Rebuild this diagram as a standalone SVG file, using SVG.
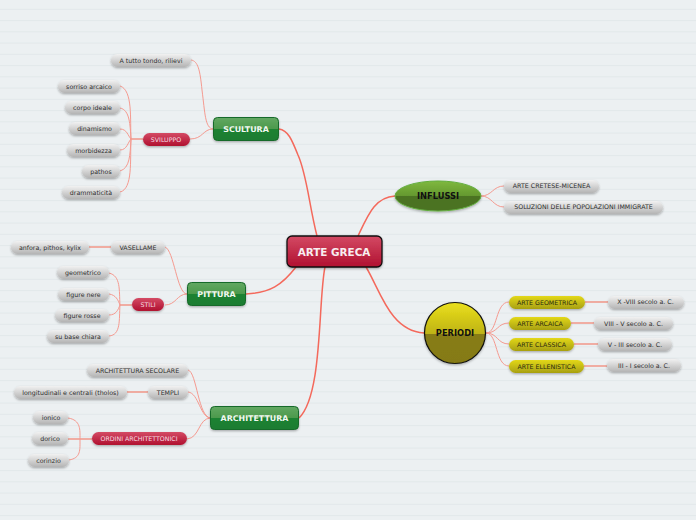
<svg xmlns="http://www.w3.org/2000/svg" width="696" height="520" viewBox="0 0 696 520">
<style>
text{font-family:"DejaVu Sans",Verdana,sans-serif;text-anchor:middle;dominant-baseline:central}
.g text{font-size:6.3px;fill:#2e2e2e}
.r text{font-size:6.3px;fill:#f6dde2}
.y text{font-size:6.3px;fill:#2a2a10}
.m text{font-size:7.9px;font-weight:bold;fill:#f2f8f2}
.c1{fill:none;stroke:#f4695c;stroke-width:1.5}
.c2{fill:none;stroke:#f59a90;stroke-width:1}
.c3{fill:none;stroke:#f4806f;stroke-width:1.2}
.bg{stroke:#e3e8ea;stroke-width:1}
</style>
<defs>
<linearGradient id="gg" x1="0" y1="0" x2="0" y2="1"><stop offset="0" stop-color="#f1f1f1"/><stop offset="1" stop-color="#b4b4b4"/></linearGradient>
<linearGradient id="gr" x1="0" y1="0" x2="0" y2="1"><stop offset="0" stop-color="#d44a64"/><stop offset="1" stop-color="#b01030"/></linearGradient>
<linearGradient id="gy" x1="0" y1="0" x2="0" y2="1"><stop offset="0" stop-color="#e3d81a"/><stop offset="1" stop-color="#a8a010"/></linearGradient>
<linearGradient id="gm" x1="0" y1="0" x2="0" y2="1"><stop offset="0" stop-color="#62a862"/><stop offset=".5" stop-color="#4c994c"/><stop offset=".5" stop-color="#1e8232"/><stop offset="1" stop-color="#1a7c30"/></linearGradient>
<linearGradient id="gi" x1="0" y1="0" x2="0" y2="1"><stop offset="0" stop-color="#7fb83f"/><stop offset=".5" stop-color="#64982f"/><stop offset=".5" stop-color="#4b7324"/><stop offset="1" stop-color="#4b7324"/></linearGradient>
<linearGradient id="gp" x1="0" y1="0" x2="0" y2="1"><stop offset="0" stop-color="#ebe01c"/><stop offset=".52" stop-color="#bdb214"/><stop offset=".52" stop-color="#877c12"/><stop offset="1" stop-color="#857a12"/></linearGradient>
<filter id="s" x="-20%" y="-30%" width="140%" height="170%"><feDropShadow dx="0" dy="1.2" stdDeviation="0.8" flood-color="#000" flood-opacity=".3"/></filter>
</defs>
<rect width="696" height="520" fill="#ecf0f2"/>
<g id="background">
<path class="bg" d="M0 9.3H696M0 20.55H696M0 31.8H696M0 43.05H696M0 54.3H696M0 65.55H696M0 76.8H696M0 88.05H696M0 99.3H696M0 110.55H696M0 121.8H696M0 133.05H696M0 144.3H696M0 155.55H696M0 166.8H696M0 178.05H696M0 189.3H696M0 200.55H696M0 211.8H696M0 223.05H696M0 234.3H696M0 245.55H696M0 256.8H696M0 268.05H696M0 279.3H696M0 290.55H696M0 301.8H696M0 313.05H696M0 324.3H696M0 335.55H696M0 346.8H696M0 358.05H696M0 369.3H696M0 380.55H696M0 391.8H696M0 403.05H696M0 414.3H696M0 425.55H696M0 436.8H696M0 448.05H696M0 459.3H696M0 470.55H696M0 481.8H696M0 493.05H696M0 504.3H696M0 515.55H696"/>
</g>
<g id="connectors">
<path class="c1" d="M317 236C309 205 307 175 298 155C292 140 288 130 279 129"/>
<path class="c1" d="M296 267C282 285 270 293 246 294"/>
<path class="c1" d="M325 267C318 300 323 395 299 418"/>
<path class="c1" d="M358 236C368 215 375 197 395 196"/>
<path class="c1" d="M366 267C380 290 390 331 424 333"/>
<path class="c2" d="M213 129C205 128 205 113 202 90C200 70 198 61 191 60"/>
<path class="c2" d="M213 129C203 129 203 139 190 139"/>
<path class="c3" d="M143 139H131"/>
<path class="c2" d="M120 86C133 90 130 120 131 139"/>
<path class="c2" d="M120 108C130 110 130 125 131 139"/>
<path class="c2" d="M120 129C127 129 128 136 131 139"/>
<path class="c2" d="M120 150C127 150 128 142 131 139"/>
<path class="c2" d="M120 171C130 168 130 155 131 139"/>
<path class="c2" d="M120 192C133 189 130 160 131 139"/>
<path class="c2" d="M187 294C177 294 174 250 165 247"/>
<path class="c2" d="M187 294C177 294 176 305 165 305"/>
<path class="c3" d="M132 305H120"/>
<path class="c2" d="M109 273C121 276 119 290 120 305"/>
<path class="c2" d="M109 294C116 295 118 300 120 305"/>
<path class="c2" d="M109 315C116 315 118 310 120 305"/>
<path class="c2" d="M109 336C121 335 119 320 120 305"/>
<path class="c3" d="M111 247H89"/>
<path class="c2" d="M211 418C198 418 197 372 188 370"/>
<path class="c2" d="M211 418C200 418 199 393 188 392"/>
<path class="c2" d="M211 418C198 418 200 438 187 439"/>
<path class="c3" d="M148 392H127"/>
<path class="c3" d="M92 439H68"/>
<path class="c2" d="M68 418C81 420 80 430 80 439C80 450 81 458 69 460"/>
<path class="c2" d="M481 196C492 196 493 186 504 186"/>
<path class="c2" d="M481 196C492 196 493 207 504 207"/>
<path class="c2" d="M486 333C498 333 495 302 509 302"/>
<path class="c2" d="M486 333C498 333 497 323 509 323"/>
<path class="c2" d="M486 333C498 333 497 344 509 344"/>
<path class="c2" d="M486 333C498 333 495 366 509 366"/>
<path class="c3" d="M585 302H608"/>
<path class="c3" d="M571 323H594"/>
<path class="c3" d="M574 344H598"/>
<path class="c3" d="M584 366H607"/>
</g>
<g id="n-arte-greca"><rect x="287" y="236" width="95" height="31" rx="5" fill="url(#gr)" stroke="#111" stroke-width="1.3" filter="url(#s)"/><text x="334" y="251.5" font-size="10.4" font-weight="bold" fill="#f8eef0">ARTE GRECA</text></g>
<g class="m">
<g id="n-scultura"><rect x="213.500" y="117.500" width="65" height="23" rx="4" fill="url(#gm)" stroke="#176a2a" filter="url(#s)"/><text x="246" y="129">SCULTURA</text></g>
<g id="n-pittura"><rect x="187.500" y="282.500" width="58" height="23" rx="4" fill="url(#gm)" stroke="#176a2a" filter="url(#s)"/><text x="216.500" y="294">PITTURA</text></g>
<g id="n-architettura"><rect x="210.500" y="406.500" width="88" height="23" rx="4" fill="url(#gm)" stroke="#176a2a" filter="url(#s)"/><text x="254.500" y="418">ARCHITETTURA</text></g>
</g>
<g id="n-influssi"><ellipse cx="438" cy="196" rx="43" ry="15" fill="url(#gi)" stroke="#62ad3c" filter="url(#s)"/><text x="438" y="196" font-size="8.300" font-weight="bold" fill="#111">INFLUSSI</text></g>
<g id="n-periodi"><circle cx="455" cy="333" r="30.500" fill="url(#gp)" stroke="#111" stroke-width="1.200" filter="url(#s)"/><text x="455" y="333" font-size="8.300" font-weight="bold" fill="#111">PERIODI</text></g>
<g class="r">
<g id="n-sviluppo"><rect x="143" y="133" width="47" height="13" rx="6.500" fill="url(#gr)" filter="url(#s)"/><text x="166" y="139.500">SVILUPPO</text></g>
<g id="n-stili"><rect x="132" y="298" width="32" height="13" rx="6.500" fill="url(#gr)" filter="url(#s)"/><text x="148" y="304.500">STILI</text></g>
<g id="n-ordini"><rect x="92" y="432" width="95" height="13" rx="6.500" fill="url(#gr)" filter="url(#s)"/><text x="139" y="438.500">ORDINI ARCHITETTONICI</text></g>
</g>
<g class="y">
<g id="n-geometrica"><rect x="509" y="296" width="76" height="13" rx="6.500" fill="url(#gy)" filter="url(#s)"/><text x="547" y="302">ARTE GEOMETRICA</text></g>
<g id="n-arcaica"><rect x="509" y="317" width="62" height="13" rx="6.500" fill="url(#gy)" filter="url(#s)"/><text x="540" y="323">ARTE ARCAICA</text></g>
<g id="n-classica"><rect x="509" y="338" width="65" height="13" rx="6.500" fill="url(#gy)" filter="url(#s)"/><text x="541.500" y="344">ARTE CLASSICA</text></g>
<g id="n-ellenistica"><rect x="509" y="360" width="75" height="13" rx="6.500" fill="url(#gy)" filter="url(#s)"/><text x="546.500" y="366">ARTE ELLENISTICA</text></g>
</g>
<g class="g">
<g id="n-tutto"><rect x="111" y="54" width="80" height="13" rx="6.500" fill="url(#gg)" filter="url(#s)"/><text x="151" y="60.500">A tutto tondo, rilievi</text></g>
<g id="n-sorriso"><rect x="58" y="80" width="62" height="13" rx="6.500" fill="url(#gg)" filter="url(#s)"/><text x="89" y="86.500">sorriso arcaico</text></g>
<g id="n-corpo"><rect x="65" y="101" width="55" height="13" rx="6.500" fill="url(#gg)" filter="url(#s)"/><text x="92.500" y="107.500">corpo ideale</text></g>
<g id="n-dinamismo"><rect x="69" y="122" width="51" height="13" rx="6.500" fill="url(#gg)" filter="url(#s)"/><text x="94.500" y="128.500">dinamismo</text></g>
<g id="n-morbidezza"><rect x="67" y="144" width="53" height="13" rx="6.500" fill="url(#gg)" filter="url(#s)"/><text x="93.500" y="150.500">morbidezza</text></g>
<g id="n-pathos"><rect x="82" y="165" width="38" height="13" rx="6.500" fill="url(#gg)" filter="url(#s)"/><text x="101" y="171.500">pathos</text></g>
<g id="n-drammaticita"><rect x="62" y="186" width="58" height="13" rx="6.500" fill="url(#gg)" filter="url(#s)"/><text x="91" y="192.500">drammaticità</text></g>
<g id="n-anfora"><rect x="11" y="241" width="78" height="13" rx="6.500" fill="url(#gg)" filter="url(#s)"/><text x="50" y="247">anfora, pithos, kylix</text></g>
<g id="n-vasellame"><rect x="111" y="241" width="54" height="13" rx="6.500" fill="url(#gg)" filter="url(#s)"/><text x="138" y="247.500">VASELLAME</text></g>
<g id="n-geometrico"><rect x="57" y="266" width="52" height="13" rx="6.500" fill="url(#gg)" filter="url(#s)"/><text x="83" y="272.500">geometrico</text></g>
<g id="n-nere"><rect x="58" y="288" width="51" height="13" rx="6.500" fill="url(#gg)" filter="url(#s)"/><text x="83.500" y="294">figure nere</text></g>
<g id="n-rosse"><rect x="55" y="309" width="54" height="13" rx="6.500" fill="url(#gg)" filter="url(#s)"/><text x="82" y="315.500">figure rosse</text></g>
<g id="n-chiara"><rect x="47" y="330" width="62" height="13" rx="6.500" fill="url(#gg)" filter="url(#s)"/><text x="78" y="336.500">su base chiara</text></g>
<g id="n-secolare"><rect x="87" y="364" width="101" height="13" rx="6.500" fill="url(#gg)" filter="url(#s)"/><text x="137.500" y="370.500">ARCHITETTURA SECOLARE</text></g>
<g id="n-longitudinali"><rect x="14" y="386" width="113" height="13" rx="6.500" fill="url(#gg)" filter="url(#s)"/><text x="70.500" y="392">longitudinali e centrali (tholos)</text></g>
<g id="n-templi"><rect x="148" y="386" width="40" height="13" rx="6.500" fill="url(#gg)" filter="url(#s)"/><text x="168" y="392.500">TEMPLI</text></g>
<g id="n-ionico"><rect x="33" y="411" width="35" height="13" rx="6.500" fill="url(#gg)" filter="url(#s)"/><text x="51" y="417.500">ionico</text></g>
<g id="n-dorico"><rect x="32" y="432" width="36" height="13" rx="6.500" fill="url(#gg)" filter="url(#s)"/><text x="50" y="438.500">dorico</text></g>
<g id="n-corinzio"><rect x="28" y="454" width="41" height="13" rx="6.500" fill="url(#gg)" filter="url(#s)"/><text x="48.500" y="460.500">corinzio</text></g>
<g id="n-cretese"><rect x="504" y="180" width="95" height="13" rx="6.500" fill="url(#gg)" filter="url(#s)"/><text x="551.500" y="185.500">ARTE CRETESE-MICENEA</text></g>
<g id="n-soluzioni"><rect x="504" y="201" width="159" height="13" rx="6.500" fill="url(#gg)" filter="url(#s)"/><text x="583.500" y="206.500">SOLUZIONI DELLE POPOLAZIONI IMMIGRATE</text></g>
<g id="n-x"><rect x="608" y="296" width="76" height="13" rx="6.500" fill="url(#gg)" filter="url(#s)"/><text x="645.500" y="301.500">X -VIII secolo a. C.</text></g>
<g id="n-viii"><rect x="594" y="317" width="79" height="13" rx="6.500" fill="url(#gg)" filter="url(#s)"/><text x="633.500" y="323">VIII - V secolo a. C.</text></g>
<g id="n-v"><rect x="598" y="338" width="74" height="13" rx="6.500" fill="url(#gg)" filter="url(#s)"/><text x="635" y="344">V - III secolo a. C.</text></g>
<g id="n-iii"><rect x="607" y="359" width="74" height="13" rx="6.500" fill="url(#gg)" filter="url(#s)"/><text x="644" y="365.500">III - I secolo a. C.</text></g>
</g>
</svg>
